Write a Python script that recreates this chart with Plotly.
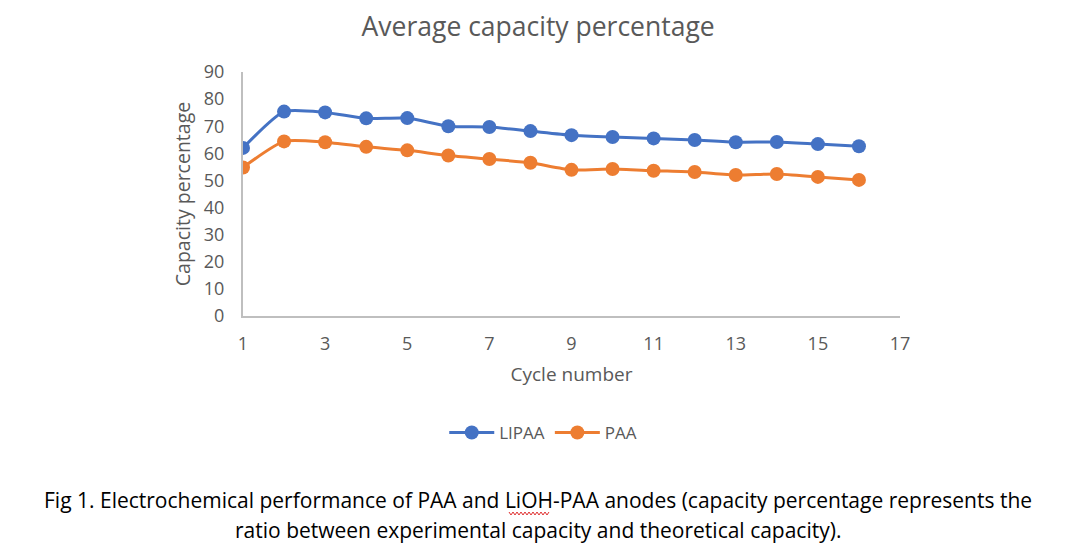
import plotly.graph_objects as go

cycles = list(range(1, 17))
lipaa = [62.0, 75.4, 75.1, 72.9, 73.0, 70.0, 69.7, 68.2, 66.7, 66.0, 65.5, 64.9, 64.1, 64.2, 63.4, 62.6]
paa = [54.8, 64.4, 64.1, 62.4, 61.1, 59.2, 57.9, 56.5, 53.9, 54.2, 53.6, 53.1, 52.0, 52.4, 51.3, 50.2]

FONT = "Open Sans"
GREY = "#595959"

fig = go.Figure()
fig.add_trace(go.Scatter(x=cycles, y=lipaa, name="LIPAA", mode="lines+markers",
                         line=dict(color="#4472C4", width=3, shape="spline", smoothing=0.6),
                         marker=dict(size=14, color="#4472C4")))
fig.add_trace(go.Scatter(x=cycles, y=paa, name="PAA", mode="lines+markers",
                         line=dict(color="#ED7D31", width=3, shape="spline", smoothing=0.6),
                         marker=dict(size=14, color="#ED7D31")))

fig.update_layout(
    width=1072, height=550,
    margin=dict(l=243, r=172, t=72, b=234),
    paper_bgcolor="white", plot_bgcolor="white",
    font=dict(family=FONT, color=GREY, size=16),
    title=dict(text="Average capacity percentage", x=0.502, xanchor="center",
               y=1 - 27 / 550, yanchor="middle", font=dict(size=26.5, color=GREY, family=FONT)),
    xaxis=dict(range=[1, 17], dtick=2, tick0=1, showgrid=False, zeroline=False,
               showline=True, linecolor="#BFBFBF", linewidth=2, ticks="outside",
               ticklen=10, tickcolor="rgba(0,0,0,0)",
               tickfont=dict(size=18, color=GREY),
               title=dict(text="Cycle number", font=dict(size=19, color=GREY), standoff=14)),
    yaxis=dict(range=[0, 90], dtick=10, showgrid=False, zeroline=False,
               showline=True, linecolor="#BFBFBF", linewidth=2, ticks="outside",
               ticklen=13, tickcolor="rgba(0,0,0,0)",
               tickfont=dict(size=18, color=GREY),
               title=dict(text="Capacity percentage", font=dict(size=19.5, color=GREY), standoff=8)),
    legend=dict(orientation="h", x=0.457, xanchor="center", y=(316 - 433) / 244, yanchor="middle",
                font=dict(size=17, color=GREY), itemwidth=45),
    showlegend=True,
)

cap_x = (538 - 243) / 657
caption1 = "Fig 1. Electrochemical performance of PAA and LiOH-PAA anodes (capacity percentage represents the"
caption2 = "ratio between experimental capacity and theoretical capacity)."
fig.add_annotation(text=caption1, xref="paper", yref="paper", x=cap_x, y=(316 - 500) / 244,
                   xanchor="center", yanchor="middle", showarrow=False,
                   font=dict(size=21, color="black", family=FONT))
fig.add_annotation(text=caption2, xref="paper", yref="paper", x=cap_x, y=(316 - 530) / 244,
                   xanchor="center", yanchor="middle", showarrow=False,
                   font=dict(size=21, color="black", family=FONT))

# spell-check squiggle under "LiOH"
def px(xp):
    return (xp - 243) / 657

def py(yp):
    return (316 - yp) / 244

pts = []
x0, x1 = 509, 549
i = 0
xx = x0
while xx <= x1:
    yy = 512 if i % 2 == 0 else 515
    pts.append((px(xx), py(yy)))
    xx += 2
    i += 1
path = "M " + " L ".join(f"{a:.5f},{b:.5f}" for a, b in pts)
fig.add_shape(type="path", path=path, xref="paper", yref="paper",
              line=dict(color="#E03030", width=1))

fig.write_html("out.html")
